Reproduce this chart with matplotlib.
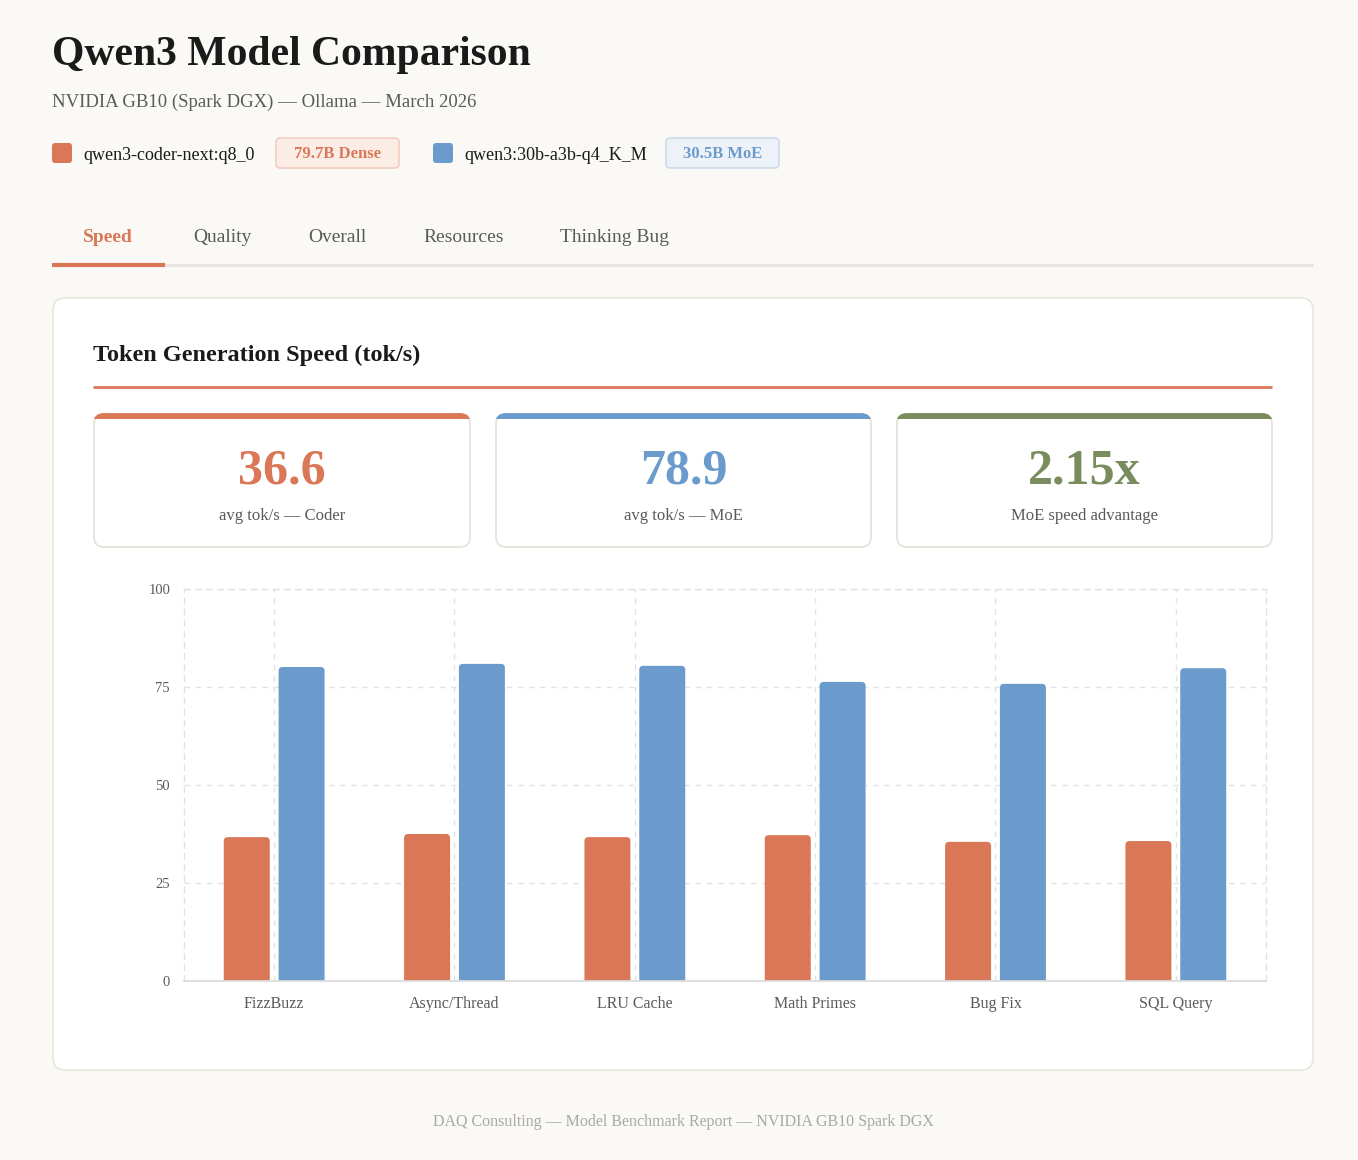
import matplotlib
matplotlib.use("Agg")
import matplotlib.pyplot as plt
from matplotlib.patches import FancyBboxPatch, Rectangle

# ---------------- data ----------------
tasks = ["FizzBuzz", "Async/Thread", "LRU Cache", "Math Primes", "Bug Fix", "SQL Query"]
coder_speed = [36.7, 37.5, 36.7, 37.2, 35.5, 35.7]
moe_speed = [80.1, 80.9, 80.4, 76.3, 75.8, 79.8]
yticks = [0, 25, 50, 75, 100]
tabs = ["Speed", "Quality", "Overall", "Resources", "Thinking Bug"]
stat_values = ["36.6", "78.9", "2.15x"]
stat_labels = ["avg tok/s \u2014 Coder", "avg tok/s \u2014 MoE", "MoE speed advantage"]
model_names = ["qwen3-coder-next:q8_0", "qwen3:30b-a3b-q4_K_M"]
model_badges = ["79.7B Dense", "30.5B MoE"]

# ---------------- style ----------------
ORANGE = "#d97757"
BLUE = "#6a9bcc"
GREEN = "#788c5d"
BG = "#faf9f6"
TXT = "#1a1a1a"
GRAY = "#5a5a5a"
SERIF = ["Liberation Serif", "DejaVu Serif"]
plt.rcParams["font.family"] = SERIF

W, H = 1358, 1160
fig = plt.figure(figsize=(W / 100, H / 100), dpi=100, facecolor=BG)
bg = fig.add_axes([0, 0, 1, 1])
bg.set_xlim(0, W)
bg.set_ylim(H, 0)
bg.axis("off")
bg.set_facecolor(BG)

def rbox(x0, y0, x1, y1, r, fc, ec, lw=1.0, z=1, clip=None):
    p = FancyBboxPatch((x0, y0), x1 - x0, y1 - y0,
                       boxstyle=f"round,pad=0,rounding_size={r}",
                       fc=fc, ec=ec, lw=lw, zorder=z)
    bg.add_patch(p)
    if clip is not None:
        p.set_clip_path(clip)
    return p

# Title and subtitle
bg.text(52, 55, "Qwen3 Model Comparison", fontsize=30, fontweight="bold",
        color=TXT, va="center", ha="left")
bg.text(52, 102, "NVIDIA GB10 (Spark DGX) \u2014 Ollama \u2014 March 2026",
        fontsize=13.5, color=GRAY, va="center", ha="left")

# Legend row
leg = [(52, model_names[0], ORANGE, 276, 399, "#fbece5", "#f1c7b6"),
       (433, model_names[1], BLUE, 666, 779, "#edf2f8", "#c4d6e8")]
for (x, name, col, bx0, bx1, bfc, bec), badge in zip(leg, model_badges):
    rbox(x, 143, x + 20, 163, 3, col, "none", z=2)
    bg.text(x + 31, 155, name, fontsize=13, color=TXT, va="center", ha="left")
    rbox(bx0, 138, bx1, 168, 4, bfc, bec, lw=1.0, z=2)
    bg.text((bx0 + bx1) / 2, 154, badge, fontsize=12, fontweight="bold",
            color=col, va="center", ha="center")

# Tabs
tab_x = [108, 222, 337, 464, 615]
for i, (t, x) in enumerate(zip(tabs, tab_x)):
    bg.text(x, 238, t, fontsize=14, color=ORANGE if i == 0 else GRAY,
            fontweight="bold" if i == 0 else "normal", va="center", ha="center")
bg.plot([52, 1313], [264.5, 264.5], color="#e6e3dc", lw=2, solid_capstyle="butt", zorder=2)
bg.plot([52, 165], [264.5, 264.5], color=ORANGE, lw=3, solid_capstyle="butt", zorder=3)

# Card
rbox(53, 298, 1313, 1070, 12, "white", "#e9e6df", lw=1.2, z=1)
bg.text(93, 355, "Token Generation Speed (tok/s)", fontsize=17.5, fontweight="bold",
        color=TXT, va="center", ha="left")
bg.plot([93, 1272], [387, 387], color=ORANGE, lw=2, solid_capstyle="butt", zorder=2)

# Stat boxes
boxes = [(94, 470, ORANGE), (496, 871, BLUE), (897, 1272, GREEN)]
for (x0, x1, col), val, lab in zip(boxes, stat_values, stat_labels):
    rbox(x0, 414, x1, 547, 10, "white", "#e6e2d8", lw=1.3, z=2)
    clip = Rectangle((x0 - 2, 412), x1 - x0 + 4, 6.5, transform=bg.transData)
    rbox(x0, 414, x1, 547, 10, col, col, lw=1.3, z=3, clip=clip)
    cx = (x0 + x1) / 2
    bg.text(cx, 471, val, fontsize=36, fontweight="bold", color=col,
            va="center", ha="center", zorder=4)
    bg.text(cx, 516, lab, fontsize=12, color=GRAY, va="center", ha="center", zorder=4)

# Footer
bg.text(683, 1122, "DAQ Consulting \u2014 Model Benchmark Report \u2014 NVIDIA GB10 Spark DGX",
        fontsize=11.5, color="#a8a8a8", va="center", ha="center")

# ---------------- bar chart ----------------
ax = fig.add_axes([184 / W, (H - 981) / H, 1082 / W, 392 / H])
ax.set_facecolor("white")
x = list(range(len(tasks)))
bw = 0.255
off = 0.152
bars_c = ax.bar([i - off for i in x], coder_speed, width=bw, color=ORANGE, zorder=3)
bars_m = ax.bar([i + off for i in x], moe_speed, width=bw, color=BLUE, zorder=3)
ax.set_xlim(-0.5, len(tasks) - 0.5)
ax.set_ylim(0, 100)

# round the top corners of each bar (geometry taken from the bars themselves)
px_x = (len(tasks)) / 1082.0
px_y = 100.0 / 392.0
r = 4 * px_x
for cont in (bars_c, bars_m):
    for rect in cont.patches:
        bx, by = rect.get_x(), rect.get_y()
        bwid, bh = rect.get_width(), rect.get_height()
        ext = r * (px_y / px_x)
        fp = FancyBboxPatch((bx, by - ext), bwid, bh + ext,
                            boxstyle=f"round,pad=0,rounding_size={r}",
                            mutation_aspect=px_y / px_x,
                            fc=rect.get_facecolor(), ec="none", zorder=3)
        fp.set_clip_path(ax.patch)
        ax.add_patch(fp)
        rect.set_visible(False)

ax.set_yticks(yticks)
ax.set_yticklabels([str(v) for v in yticks])
ax.set_xticks(x)
ax.set_xticklabels(tasks)
ax.tick_params(axis="both", length=0, colors=GRAY, labelsize=11)
ax.tick_params(axis="y", pad=10, labelsize=10.5)
ax.tick_params(axis="x", pad=11, labelsize=11.5)
ax.grid(True, color="#e2e2e2", lw=1, linestyle=(0, (4, 4)), zorder=0)
for s in ["top", "right", "left"]:
    ax.spines[s].set_color("#e2e2e2")
    ax.spines[s].set_linestyle((0, (4, 4)))
    ax.spines[s].set_linewidth(1)
ax.spines["bottom"].set_color("#dcdcdc")
ax.spines["bottom"].set_linewidth(1.3)
ax.spines["bottom"].set_zorder(4)

fig.savefig("out.png", dpi=100, facecolor=BG)
